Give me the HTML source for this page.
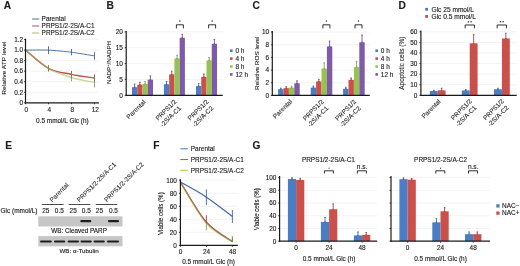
<!DOCTYPE html>
<html><head><meta charset="utf-8"><style>
html,body{margin:0;padding:0;background:#fff;width:520px;height:266px;overflow:hidden}
svg{display:block;filter:blur(0.35px)}
text{font-family:"Liberation Sans",Arial,sans-serif;fill:#1c1c1c;stroke:#1c1c1c;stroke-width:0.13px}
</style></head><body>
<svg width="520" height="266" viewBox="0 0 520 266">
<rect width="520" height="266" fill="#fff"/>
<text x="3.70" y="9.00" font-size="10.2" text-anchor="start" font-weight="bold" >A</text>
<line x1="32.10" y1="19.00" x2="39.30" y2="19.00" stroke="#5f7ba5" stroke-width="1.1" />
<text x="41.60" y="21.10" font-size="6.45" text-anchor="start" font-weight="normal" >Parental</text>
<line x1="32.10" y1="26.00" x2="39.30" y2="26.00" stroke="#b06464" stroke-width="1.1" />
<text x="41.60" y="28.10" font-size="6.45" text-anchor="start" font-weight="normal" >PRPS1/2-2S/A-C1</text>
<line x1="32.10" y1="33.00" x2="39.30" y2="33.00" stroke="#b5c27e" stroke-width="1.1" />
<text x="41.60" y="35.10" font-size="6.45" text-anchor="start" font-weight="normal" >PRPS1/2-2S/A-C2</text>
<line x1="25.50" y1="92.26" x2="99.00" y2="92.26" stroke="#eeeeee" stroke-width="0.7" />
<line x1="25.50" y1="81.72" x2="99.00" y2="81.72" stroke="#eeeeee" stroke-width="0.7" />
<line x1="25.50" y1="71.18" x2="99.00" y2="71.18" stroke="#eeeeee" stroke-width="0.7" />
<line x1="25.50" y1="60.64" x2="99.00" y2="60.64" stroke="#eeeeee" stroke-width="0.7" />
<line x1="25.50" y1="50.10" x2="99.00" y2="50.10" stroke="#eeeeee" stroke-width="0.7" />
<line x1="25.50" y1="39.56" x2="99.00" y2="39.56" stroke="#eeeeee" stroke-width="0.7" />
<line x1="24.00" y1="102.80" x2="25.50" y2="102.80" stroke="#1a1a1a" stroke-width="0.8" />
<text x="23.20" y="105.11" font-size="6.45" text-anchor="end" font-weight="normal" >0</text>
<line x1="24.00" y1="92.26" x2="25.50" y2="92.26" stroke="#1a1a1a" stroke-width="0.8" />
<text x="23.20" y="94.57" font-size="6.45" text-anchor="end" font-weight="normal" >0.2</text>
<line x1="24.00" y1="81.72" x2="25.50" y2="81.72" stroke="#1a1a1a" stroke-width="0.8" />
<text x="23.20" y="84.03" font-size="6.45" text-anchor="end" font-weight="normal" >0.4</text>
<line x1="24.00" y1="71.18" x2="25.50" y2="71.18" stroke="#1a1a1a" stroke-width="0.8" />
<text x="23.20" y="73.49" font-size="6.45" text-anchor="end" font-weight="normal" >0.6</text>
<line x1="24.00" y1="60.64" x2="25.50" y2="60.64" stroke="#1a1a1a" stroke-width="0.8" />
<text x="23.20" y="62.95" font-size="6.45" text-anchor="end" font-weight="normal" >0.8</text>
<line x1="24.00" y1="50.10" x2="25.50" y2="50.10" stroke="#1a1a1a" stroke-width="0.8" />
<text x="23.20" y="52.41" font-size="6.45" text-anchor="end" font-weight="normal" >1.0</text>
<line x1="24.00" y1="39.56" x2="25.50" y2="39.56" stroke="#1a1a1a" stroke-width="0.8" />
<text x="23.20" y="41.87" font-size="6.45" text-anchor="end" font-weight="normal" >1.2</text>
<line x1="25.50" y1="102.80" x2="25.50" y2="104.30" stroke="#1a1a1a" stroke-width="0.8" />
<text x="26.30" y="111.80" font-size="6.45" text-anchor="middle" font-weight="normal" >0</text>
<line x1="48.50" y1="102.80" x2="48.50" y2="104.30" stroke="#1a1a1a" stroke-width="0.8" />
<text x="49.30" y="111.80" font-size="6.45" text-anchor="middle" font-weight="normal" >4</text>
<line x1="71.50" y1="102.80" x2="71.50" y2="104.30" stroke="#1a1a1a" stroke-width="0.8" />
<text x="72.30" y="111.80" font-size="6.45" text-anchor="middle" font-weight="normal" >8</text>
<line x1="94.50" y1="102.80" x2="94.50" y2="104.30" stroke="#1a1a1a" stroke-width="0.8" />
<text x="95.30" y="111.80" font-size="6.45" text-anchor="middle" font-weight="normal" >12</text>
<text x="62.40" y="122.80" font-size="6.45" text-anchor="middle" font-weight="normal" >0.5 mmol/L Glc (h)</text>
<text x="0" y="0" font-size="6.2" text-anchor="middle" textLength="53.0" lengthAdjust="spacingAndGlyphs" style="stroke-width:0.1px" transform="translate(6.30,68.20) rotate(-90)">Relative ATP level</text>
<path d="M25.50,50.10 C29.33,53.13 40.83,64.24 48.50,68.28 C56.17,72.32 63.83,72.72 71.50,74.34 C79.17,75.97 90.67,77.42 94.50,78.03" fill="none" stroke="#bb4f4a" stroke-width="1.4" stroke-opacity="1.0"/>
<path d="M25.50,50.10 C29.33,53.13 40.83,63.71 48.50,68.28 C56.17,72.85 63.83,75.13 71.50,77.50 C79.17,79.88 90.67,81.68 94.50,82.51" fill="none" stroke="#a8c060" stroke-width="1.4" stroke-opacity="0.6"/>
<path d="M25.50,50.10 C27.34,50.10 44.82,49.93 48.50,50.10 C52.18,50.27 67.82,51.74 71.50,52.21 C75.18,52.67 92.66,55.60 94.50,55.90" fill="none" stroke="#4d75ad" stroke-width="1.0" stroke-opacity="1.0"/>
<line x1="48.50" y1="46.78" x2="48.50" y2="53.42" stroke="#2f5590" stroke-width="0.8" />
<line x1="48.00" y1="46.78" x2="49.00" y2="46.78" stroke="#2f5590" stroke-width="0.8" />
<line x1="48.00" y1="53.42" x2="49.00" y2="53.42" stroke="#2f5590" stroke-width="0.8" />
<line x1="71.50" y1="49.57" x2="71.50" y2="54.84" stroke="#2f5590" stroke-width="0.8" />
<line x1="71.00" y1="49.57" x2="72.00" y2="49.57" stroke="#2f5590" stroke-width="0.8" />
<line x1="71.00" y1="54.84" x2="72.00" y2="54.84" stroke="#2f5590" stroke-width="0.8" />
<line x1="94.50" y1="52.73" x2="94.50" y2="59.06" stroke="#2f5590" stroke-width="0.8" />
<line x1="94.00" y1="52.73" x2="95.00" y2="52.73" stroke="#2f5590" stroke-width="0.8" />
<line x1="94.00" y1="59.06" x2="95.00" y2="59.06" stroke="#2f5590" stroke-width="0.8" />
<line x1="48.50" y1="65.65" x2="48.50" y2="70.92" stroke="#8c3f3f" stroke-width="0.8" />
<line x1="48.00" y1="65.65" x2="49.00" y2="65.65" stroke="#8c3f3f" stroke-width="0.8" />
<line x1="48.00" y1="70.92" x2="49.00" y2="70.92" stroke="#8c3f3f" stroke-width="0.8" />
<line x1="71.50" y1="71.44" x2="71.50" y2="77.24" stroke="#8c3f3f" stroke-width="0.8" />
<line x1="71.00" y1="71.44" x2="72.00" y2="71.44" stroke="#8c3f3f" stroke-width="0.8" />
<line x1="71.00" y1="77.24" x2="72.00" y2="77.24" stroke="#8c3f3f" stroke-width="0.8" />
<line x1="94.50" y1="74.87" x2="94.50" y2="81.19" stroke="#8c3f3f" stroke-width="0.8" />
<line x1="94.00" y1="74.87" x2="95.00" y2="74.87" stroke="#8c3f3f" stroke-width="0.8" />
<line x1="94.00" y1="81.19" x2="95.00" y2="81.19" stroke="#8c3f3f" stroke-width="0.8" />
<line x1="48.50" y1="65.65" x2="48.50" y2="70.92" stroke="#7f9048" stroke-width="0.8" />
<line x1="48.00" y1="65.65" x2="49.00" y2="65.65" stroke="#7f9048" stroke-width="0.8" />
<line x1="48.00" y1="70.92" x2="49.00" y2="70.92" stroke="#7f9048" stroke-width="0.8" />
<line x1="71.50" y1="74.34" x2="71.50" y2="80.67" stroke="#7f9048" stroke-width="0.8" />
<line x1="71.00" y1="74.34" x2="72.00" y2="74.34" stroke="#7f9048" stroke-width="0.8" />
<line x1="71.00" y1="80.67" x2="72.00" y2="80.67" stroke="#7f9048" stroke-width="0.8" />
<line x1="94.50" y1="78.29" x2="94.50" y2="86.73" stroke="#7f9048" stroke-width="0.8" />
<line x1="94.00" y1="78.29" x2="95.00" y2="78.29" stroke="#7f9048" stroke-width="0.8" />
<line x1="94.00" y1="86.73" x2="95.00" y2="86.73" stroke="#7f9048" stroke-width="0.8" />
<line x1="25.50" y1="38.60" x2="25.50" y2="103.40" stroke="#1a1a1a" stroke-width="1.2" />
<line x1="24.90" y1="102.80" x2="99.00" y2="102.80" stroke="#1a1a1a" stroke-width="1.2" />
<text x="106.60" y="9.00" font-size="10.2" text-anchor="start" font-weight="bold" >B</text>
<line x1="126.20" y1="79.42" x2="222.80" y2="79.42" stroke="#eeeeee" stroke-width="0.7" />
<line x1="126.20" y1="63.55" x2="222.80" y2="63.55" stroke="#eeeeee" stroke-width="0.7" />
<line x1="126.20" y1="47.67" x2="222.80" y2="47.67" stroke="#eeeeee" stroke-width="0.7" />
<line x1="126.20" y1="31.80" x2="222.80" y2="31.80" stroke="#eeeeee" stroke-width="0.7" />
<line x1="124.70" y1="95.30" x2="126.20" y2="95.30" stroke="#1a1a1a" stroke-width="0.8" />
<text x="122.90" y="97.61" font-size="6.45" text-anchor="end" font-weight="normal" >0</text>
<line x1="124.70" y1="79.42" x2="126.20" y2="79.42" stroke="#1a1a1a" stroke-width="0.8" />
<text x="122.90" y="81.73" font-size="6.45" text-anchor="end" font-weight="normal" >5</text>
<line x1="124.70" y1="63.55" x2="126.20" y2="63.55" stroke="#1a1a1a" stroke-width="0.8" />
<text x="122.90" y="65.86" font-size="6.45" text-anchor="end" font-weight="normal" >10</text>
<line x1="124.70" y1="47.67" x2="126.20" y2="47.67" stroke="#1a1a1a" stroke-width="0.8" />
<text x="122.90" y="49.98" font-size="6.45" text-anchor="end" font-weight="normal" >15</text>
<line x1="124.70" y1="31.80" x2="126.20" y2="31.80" stroke="#1a1a1a" stroke-width="0.8" />
<text x="122.90" y="34.11" font-size="6.45" text-anchor="end" font-weight="normal" >20</text>
<rect x="132.00" y="87.20" width="5.25" height="8.10" fill="#497dc5"/>
<rect x="137.25" y="84.70" width="5.25" height="10.60" fill="#ca504b"/>
<rect x="142.50" y="83.87" width="5.25" height="11.43" fill="#97c252"/>
<rect x="147.75" y="79.71" width="5.25" height="15.59" fill="#7d5ba9"/>
<rect x="163.90" y="84.31" width="5.25" height="10.99" fill="#497dc5"/>
<rect x="169.15" y="74.34" width="5.25" height="20.95" fill="#ca504b"/>
<rect x="174.40" y="58.47" width="5.25" height="36.83" fill="#97c252"/>
<rect x="179.65" y="37.83" width="5.25" height="57.47" fill="#7d5ba9"/>
<rect x="196.00" y="86.09" width="5.25" height="9.21" fill="#497dc5"/>
<rect x="201.25" y="76.88" width="5.25" height="18.41" fill="#ca504b"/>
<rect x="206.50" y="60.38" width="5.25" height="34.92" fill="#97c252"/>
<rect x="211.75" y="43.87" width="5.25" height="51.43" fill="#7d5ba9"/>
<line x1="134.62" y1="84.03" x2="134.62" y2="87.20" stroke="#2f5590" stroke-width="0.8" />
<line x1="133.82" y1="84.03" x2="135.43" y2="84.03" stroke="#2f5590" stroke-width="0.8" />
<line x1="133.82" y1="87.20" x2="135.43" y2="87.20" stroke="#2f5590" stroke-width="0.8" />
<line x1="139.88" y1="82.16" x2="139.88" y2="84.70" stroke="#9a3036" stroke-width="0.8" />
<line x1="139.07" y1="82.16" x2="140.68" y2="82.16" stroke="#9a3036" stroke-width="0.8" />
<line x1="139.07" y1="84.70" x2="140.68" y2="84.70" stroke="#9a3036" stroke-width="0.8" />
<line x1="145.12" y1="81.33" x2="145.12" y2="83.87" stroke="#6f9a38" stroke-width="0.8" />
<line x1="144.32" y1="81.33" x2="145.93" y2="81.33" stroke="#6f9a38" stroke-width="0.8" />
<line x1="144.32" y1="83.87" x2="145.93" y2="83.87" stroke="#6f9a38" stroke-width="0.8" />
<line x1="150.38" y1="75.90" x2="150.38" y2="79.71" stroke="#5a3f82" stroke-width="0.8" />
<line x1="149.57" y1="75.90" x2="151.18" y2="75.90" stroke="#5a3f82" stroke-width="0.8" />
<line x1="149.57" y1="79.71" x2="151.18" y2="79.71" stroke="#5a3f82" stroke-width="0.8" />
<line x1="166.53" y1="81.46" x2="166.53" y2="84.31" stroke="#2f5590" stroke-width="0.8" />
<line x1="165.72" y1="81.46" x2="167.33" y2="81.46" stroke="#2f5590" stroke-width="0.8" />
<line x1="165.72" y1="84.31" x2="167.33" y2="84.31" stroke="#2f5590" stroke-width="0.8" />
<line x1="171.78" y1="71.17" x2="171.78" y2="74.34" stroke="#9a3036" stroke-width="0.8" />
<line x1="170.97" y1="71.17" x2="172.58" y2="71.17" stroke="#9a3036" stroke-width="0.8" />
<line x1="170.97" y1="74.34" x2="172.58" y2="74.34" stroke="#9a3036" stroke-width="0.8" />
<line x1="177.03" y1="55.30" x2="177.03" y2="58.47" stroke="#6f9a38" stroke-width="0.8" />
<line x1="176.22" y1="55.30" x2="177.83" y2="55.30" stroke="#6f9a38" stroke-width="0.8" />
<line x1="176.22" y1="58.47" x2="177.83" y2="58.47" stroke="#6f9a38" stroke-width="0.8" />
<line x1="182.28" y1="34.34" x2="182.28" y2="37.83" stroke="#5a3f82" stroke-width="0.8" />
<line x1="181.47" y1="34.34" x2="183.08" y2="34.34" stroke="#5a3f82" stroke-width="0.8" />
<line x1="181.47" y1="37.83" x2="183.08" y2="37.83" stroke="#5a3f82" stroke-width="0.8" />
<line x1="198.62" y1="83.55" x2="198.62" y2="86.09" stroke="#2f5590" stroke-width="0.8" />
<line x1="197.82" y1="83.55" x2="199.43" y2="83.55" stroke="#2f5590" stroke-width="0.8" />
<line x1="197.82" y1="86.09" x2="199.43" y2="86.09" stroke="#2f5590" stroke-width="0.8" />
<line x1="203.88" y1="74.03" x2="203.88" y2="76.88" stroke="#9a3036" stroke-width="0.8" />
<line x1="203.07" y1="74.03" x2="204.68" y2="74.03" stroke="#9a3036" stroke-width="0.8" />
<line x1="203.07" y1="76.88" x2="204.68" y2="76.88" stroke="#9a3036" stroke-width="0.8" />
<line x1="209.12" y1="57.52" x2="209.12" y2="60.38" stroke="#6f9a38" stroke-width="0.8" />
<line x1="208.32" y1="57.52" x2="209.93" y2="57.52" stroke="#6f9a38" stroke-width="0.8" />
<line x1="208.32" y1="60.38" x2="209.93" y2="60.38" stroke="#6f9a38" stroke-width="0.8" />
<line x1="214.38" y1="39.42" x2="214.38" y2="43.87" stroke="#5a3f82" stroke-width="0.8" />
<line x1="213.57" y1="39.42" x2="215.18" y2="39.42" stroke="#5a3f82" stroke-width="0.8" />
<line x1="213.57" y1="43.87" x2="215.18" y2="43.87" stroke="#5a3f82" stroke-width="0.8" />
<line x1="126.20" y1="31.00" x2="126.20" y2="95.90" stroke="#1a1a1a" stroke-width="1.2" />
<line x1="125.60" y1="95.30" x2="222.80" y2="95.30" stroke="#1a1a1a" stroke-width="1.2" />
<text x="0" y="0" font-size="6.2" text-anchor="middle" textLength="43.0" lengthAdjust="spacingAndGlyphs" style="stroke-width:0.1px" transform="translate(111.40,62.50) rotate(-90)">NADP<tspan font-size="4" dy="-2">+</tspan><tspan dy="2">/NADPH</tspan></text>
<path d="M176.40,28.40 V24.80 H183.40 V28.40" fill="none" stroke="#1a1a1a" stroke-width="0.9"/>
<circle cx="179.90" cy="21.00" r="0.75" fill="#333"/>
<path d="M208.60,28.40 V24.80 H215.60 V28.40" fill="none" stroke="#1a1a1a" stroke-width="0.9"/>
<circle cx="212.10" cy="21.00" r="0.75" fill="#333"/>
<rect x="230.00" y="49.40" width="2.60" height="2.60" fill="#497dc5"/>
<text x="235.50" y="53.01" font-size="6.45" text-anchor="start" font-weight="normal" >0 h</text>
<rect x="230.00" y="57.30" width="2.60" height="2.60" fill="#ca504b"/>
<text x="235.50" y="60.91" font-size="6.45" text-anchor="start" font-weight="normal" >4 h</text>
<rect x="230.00" y="65.20" width="2.60" height="2.60" fill="#97c252"/>
<text x="235.50" y="68.81" font-size="6.45" text-anchor="start" font-weight="normal" >8 h</text>
<rect x="230.00" y="73.10" width="2.60" height="2.60" fill="#7d5ba9"/>
<text x="235.50" y="76.71" font-size="6.45" text-anchor="start" font-weight="normal" >12 h</text>
<text x="0" y="0" font-size="6.45" text-anchor="end" style="stroke-width:0.08px" transform="translate(146.00,102.60) rotate(-45)">Parental</text>
<text x="0" y="0" font-size="6.45" text-anchor="end" style="stroke-width:0.08px" transform="translate(176.90,102.10) rotate(-45)">PRPS1/2</text>
<text x="0" y="0" font-size="6.45" text-anchor="end" style="stroke-width:0.08px" transform="translate(181.50,108.68) rotate(-45)">-2S/A-C1</text>
<text x="0" y="0" font-size="6.45" text-anchor="end" style="stroke-width:0.08px" transform="translate(209.10,102.10) rotate(-45)">PRPS1/2</text>
<text x="0" y="0" font-size="6.45" text-anchor="end" style="stroke-width:0.08px" transform="translate(213.70,108.68) rotate(-45)">-2S/A-C2</text>
<text x="252.50" y="9.00" font-size="10.2" text-anchor="start" font-weight="bold" >C</text>
<line x1="272.30" y1="82.74" x2="369.80" y2="82.74" stroke="#eeeeee" stroke-width="0.7" />
<line x1="272.30" y1="70.08" x2="369.80" y2="70.08" stroke="#eeeeee" stroke-width="0.7" />
<line x1="272.30" y1="57.42" x2="369.80" y2="57.42" stroke="#eeeeee" stroke-width="0.7" />
<line x1="272.30" y1="44.76" x2="369.80" y2="44.76" stroke="#eeeeee" stroke-width="0.7" />
<line x1="272.30" y1="32.10" x2="369.80" y2="32.10" stroke="#eeeeee" stroke-width="0.7" />
<line x1="270.80" y1="95.40" x2="272.30" y2="95.40" stroke="#1a1a1a" stroke-width="0.8" />
<text x="269.20" y="97.71" font-size="6.45" text-anchor="end" font-weight="normal" >0</text>
<line x1="270.80" y1="82.74" x2="272.30" y2="82.74" stroke="#1a1a1a" stroke-width="0.8" />
<text x="269.20" y="85.05" font-size="6.45" text-anchor="end" font-weight="normal" >2</text>
<line x1="270.80" y1="70.08" x2="272.30" y2="70.08" stroke="#1a1a1a" stroke-width="0.8" />
<text x="269.20" y="72.39" font-size="6.45" text-anchor="end" font-weight="normal" >4</text>
<line x1="270.80" y1="57.42" x2="272.30" y2="57.42" stroke="#1a1a1a" stroke-width="0.8" />
<text x="269.20" y="59.73" font-size="6.45" text-anchor="end" font-weight="normal" >6</text>
<line x1="270.80" y1="44.76" x2="272.30" y2="44.76" stroke="#1a1a1a" stroke-width="0.8" />
<text x="269.20" y="47.07" font-size="6.45" text-anchor="end" font-weight="normal" >8</text>
<line x1="270.80" y1="32.10" x2="272.30" y2="32.10" stroke="#1a1a1a" stroke-width="0.8" />
<text x="269.20" y="34.41" font-size="6.45" text-anchor="end" font-weight="normal" >10</text>
<rect x="278.10" y="89.20" width="5.40" height="6.20" fill="#497dc5"/>
<rect x="283.50" y="88.18" width="5.40" height="7.22" fill="#ca504b"/>
<rect x="288.90" y="87.68" width="5.40" height="7.72" fill="#97c252"/>
<rect x="294.30" y="83.31" width="5.40" height="12.09" fill="#7d5ba9"/>
<rect x="310.70" y="87.68" width="5.40" height="7.72" fill="#497dc5"/>
<rect x="316.10" y="81.47" width="5.40" height="13.93" fill="#ca504b"/>
<rect x="321.50" y="68.62" width="5.40" height="26.78" fill="#97c252"/>
<rect x="326.90" y="46.47" width="5.40" height="48.93" fill="#7d5ba9"/>
<rect x="343.10" y="88.82" width="5.40" height="6.58" fill="#497dc5"/>
<rect x="348.50" y="79.89" width="5.40" height="15.51" fill="#ca504b"/>
<rect x="353.90" y="67.10" width="5.40" height="28.30" fill="#97c252"/>
<rect x="359.30" y="42.29" width="5.40" height="53.11" fill="#7d5ba9"/>
<line x1="280.80" y1="88.18" x2="280.80" y2="89.20" stroke="#2f5590" stroke-width="0.8" />
<line x1="280.00" y1="88.18" x2="281.60" y2="88.18" stroke="#2f5590" stroke-width="0.8" />
<line x1="280.00" y1="89.20" x2="281.60" y2="89.20" stroke="#2f5590" stroke-width="0.8" />
<line x1="286.20" y1="86.66" x2="286.20" y2="88.18" stroke="#9a3036" stroke-width="0.8" />
<line x1="285.40" y1="86.66" x2="287.00" y2="86.66" stroke="#9a3036" stroke-width="0.8" />
<line x1="285.40" y1="88.18" x2="287.00" y2="88.18" stroke="#9a3036" stroke-width="0.8" />
<line x1="291.60" y1="86.16" x2="291.60" y2="87.68" stroke="#6f9a38" stroke-width="0.8" />
<line x1="290.80" y1="86.16" x2="292.40" y2="86.16" stroke="#6f9a38" stroke-width="0.8" />
<line x1="290.80" y1="87.68" x2="292.40" y2="87.68" stroke="#6f9a38" stroke-width="0.8" />
<line x1="297.00" y1="80.78" x2="297.00" y2="83.31" stroke="#5a3f82" stroke-width="0.8" />
<line x1="296.20" y1="80.78" x2="297.80" y2="80.78" stroke="#5a3f82" stroke-width="0.8" />
<line x1="296.20" y1="83.31" x2="297.80" y2="83.31" stroke="#5a3f82" stroke-width="0.8" />
<line x1="313.40" y1="86.09" x2="313.40" y2="87.68" stroke="#2f5590" stroke-width="0.8" />
<line x1="312.60" y1="86.09" x2="314.20" y2="86.09" stroke="#2f5590" stroke-width="0.8" />
<line x1="312.60" y1="87.68" x2="314.20" y2="87.68" stroke="#2f5590" stroke-width="0.8" />
<line x1="318.80" y1="79.58" x2="318.80" y2="81.47" stroke="#9a3036" stroke-width="0.8" />
<line x1="318.00" y1="79.58" x2="319.60" y2="79.58" stroke="#9a3036" stroke-width="0.8" />
<line x1="318.00" y1="81.47" x2="319.60" y2="81.47" stroke="#9a3036" stroke-width="0.8" />
<line x1="324.20" y1="62.80" x2="324.20" y2="68.62" stroke="#6f9a38" stroke-width="0.8" />
<line x1="323.40" y1="62.80" x2="325.00" y2="62.80" stroke="#6f9a38" stroke-width="0.8" />
<line x1="323.40" y1="68.62" x2="325.00" y2="68.62" stroke="#6f9a38" stroke-width="0.8" />
<line x1="329.60" y1="41.09" x2="329.60" y2="46.47" stroke="#5a3f82" stroke-width="0.8" />
<line x1="328.80" y1="41.09" x2="330.40" y2="41.09" stroke="#5a3f82" stroke-width="0.8" />
<line x1="328.80" y1="46.47" x2="330.40" y2="46.47" stroke="#5a3f82" stroke-width="0.8" />
<line x1="345.80" y1="87.23" x2="345.80" y2="88.82" stroke="#2f5590" stroke-width="0.8" />
<line x1="345.00" y1="87.23" x2="346.60" y2="87.23" stroke="#2f5590" stroke-width="0.8" />
<line x1="345.00" y1="88.82" x2="346.60" y2="88.82" stroke="#2f5590" stroke-width="0.8" />
<line x1="351.20" y1="77.99" x2="351.20" y2="79.89" stroke="#9a3036" stroke-width="0.8" />
<line x1="350.40" y1="77.99" x2="352.00" y2="77.99" stroke="#9a3036" stroke-width="0.8" />
<line x1="350.40" y1="79.89" x2="352.00" y2="79.89" stroke="#9a3036" stroke-width="0.8" />
<line x1="356.60" y1="61.22" x2="356.60" y2="67.10" stroke="#6f9a38" stroke-width="0.8" />
<line x1="355.80" y1="61.22" x2="357.40" y2="61.22" stroke="#6f9a38" stroke-width="0.8" />
<line x1="355.80" y1="67.10" x2="357.40" y2="67.10" stroke="#6f9a38" stroke-width="0.8" />
<line x1="362.00" y1="35.08" x2="362.00" y2="42.29" stroke="#5a3f82" stroke-width="0.8" />
<line x1="361.20" y1="35.08" x2="362.80" y2="35.08" stroke="#5a3f82" stroke-width="0.8" />
<line x1="361.20" y1="42.29" x2="362.80" y2="42.29" stroke="#5a3f82" stroke-width="0.8" />
<line x1="272.30" y1="31.10" x2="272.30" y2="96.00" stroke="#1a1a1a" stroke-width="1.2" />
<line x1="271.70" y1="95.40" x2="369.80" y2="95.40" stroke="#1a1a1a" stroke-width="1.2" />
<text x="0" y="0" font-size="6.2" text-anchor="middle" textLength="53.4" lengthAdjust="spacingAndGlyphs" style="stroke-width:0.1px" transform="translate(258.70,63.20) rotate(-90)">Relative ROS level</text>
<path d="M322.90,28.40 V24.80 H329.90 V28.40" fill="none" stroke="#1a1a1a" stroke-width="0.9"/>
<circle cx="326.40" cy="21.00" r="0.75" fill="#333"/>
<path d="M355.00,28.40 V24.80 H362.00 V28.40" fill="none" stroke="#1a1a1a" stroke-width="0.9"/>
<circle cx="358.50" cy="21.00" r="0.75" fill="#333"/>
<rect x="375.40" y="49.40" width="2.60" height="2.60" fill="#497dc5"/>
<text x="380.80" y="53.01" font-size="6.45" text-anchor="start" font-weight="normal" >0 h</text>
<rect x="375.40" y="57.30" width="2.60" height="2.60" fill="#ca504b"/>
<text x="380.80" y="60.91" font-size="6.45" text-anchor="start" font-weight="normal" >4 h</text>
<rect x="375.40" y="65.20" width="2.60" height="2.60" fill="#97c252"/>
<text x="380.80" y="68.81" font-size="6.45" text-anchor="start" font-weight="normal" >8 h</text>
<rect x="375.40" y="73.10" width="2.60" height="2.60" fill="#7d5ba9"/>
<text x="380.80" y="76.71" font-size="6.45" text-anchor="start" font-weight="normal" >12 h</text>
<text x="0" y="0" font-size="6.45" text-anchor="end" style="stroke-width:0.08px" transform="translate(292.50,102.10) rotate(-45)">Parental</text>
<text x="0" y="0" font-size="6.45" text-anchor="end" style="stroke-width:0.08px" transform="translate(324.20,102.20) rotate(-45)">PRPS1/2</text>
<text x="0" y="0" font-size="6.45" text-anchor="end" style="stroke-width:0.08px" transform="translate(328.80,108.78) rotate(-45)">-2S/A-C1</text>
<text x="0" y="0" font-size="6.45" text-anchor="end" style="stroke-width:0.08px" transform="translate(356.60,102.20) rotate(-45)">PRPS1/2</text>
<text x="0" y="0" font-size="6.45" text-anchor="end" style="stroke-width:0.08px" transform="translate(361.20,108.78) rotate(-45)">-2S/A-C2</text>
<text x="398.60" y="9.00" font-size="10.2" text-anchor="start" font-weight="bold" >D</text>
<line x1="420.90" y1="84.72" x2="516.70" y2="84.72" stroke="#eeeeee" stroke-width="0.7" />
<line x1="420.90" y1="74.14" x2="516.70" y2="74.14" stroke="#eeeeee" stroke-width="0.7" />
<line x1="420.90" y1="63.56" x2="516.70" y2="63.56" stroke="#eeeeee" stroke-width="0.7" />
<line x1="420.90" y1="52.98" x2="516.70" y2="52.98" stroke="#eeeeee" stroke-width="0.7" />
<line x1="420.90" y1="42.40" x2="516.70" y2="42.40" stroke="#eeeeee" stroke-width="0.7" />
<line x1="420.90" y1="31.82" x2="516.70" y2="31.82" stroke="#eeeeee" stroke-width="0.7" />
<line x1="419.40" y1="95.30" x2="420.90" y2="95.30" stroke="#1a1a1a" stroke-width="0.8" />
<text x="417.30" y="97.61" font-size="6.45" text-anchor="end" font-weight="normal" >0</text>
<line x1="419.40" y1="84.72" x2="420.90" y2="84.72" stroke="#1a1a1a" stroke-width="0.8" />
<text x="417.30" y="87.03" font-size="6.45" text-anchor="end" font-weight="normal" >10</text>
<line x1="419.40" y1="74.14" x2="420.90" y2="74.14" stroke="#1a1a1a" stroke-width="0.8" />
<text x="417.30" y="76.45" font-size="6.45" text-anchor="end" font-weight="normal" >20</text>
<line x1="419.40" y1="63.56" x2="420.90" y2="63.56" stroke="#1a1a1a" stroke-width="0.8" />
<text x="417.30" y="65.87" font-size="6.45" text-anchor="end" font-weight="normal" >30</text>
<line x1="419.40" y1="52.98" x2="420.90" y2="52.98" stroke="#1a1a1a" stroke-width="0.8" />
<text x="417.30" y="55.29" font-size="6.45" text-anchor="end" font-weight="normal" >40</text>
<line x1="419.40" y1="42.40" x2="420.90" y2="42.40" stroke="#1a1a1a" stroke-width="0.8" />
<text x="417.30" y="44.71" font-size="6.45" text-anchor="end" font-weight="normal" >50</text>
<line x1="419.40" y1="31.82" x2="420.90" y2="31.82" stroke="#1a1a1a" stroke-width="0.8" />
<text x="417.30" y="34.13" font-size="6.45" text-anchor="end" font-weight="normal" >60</text>
<rect x="429.80" y="91.07" width="7.90" height="4.23" fill="#497dc5"/>
<rect x="437.70" y="90.33" width="7.90" height="4.97" fill="#ca504b"/>
<rect x="461.80" y="90.43" width="7.90" height="4.87" fill="#497dc5"/>
<rect x="469.70" y="43.35" width="7.90" height="51.95" fill="#ca504b"/>
<rect x="494.00" y="89.27" width="7.90" height="6.03" fill="#497dc5"/>
<rect x="501.90" y="38.49" width="7.90" height="56.81" fill="#ca504b"/>
<line x1="433.75" y1="90.22" x2="433.75" y2="91.07" stroke="#2f5590" stroke-width="0.8" />
<line x1="432.95" y1="90.22" x2="434.55" y2="90.22" stroke="#2f5590" stroke-width="0.8" />
<line x1="432.95" y1="91.07" x2="434.55" y2="91.07" stroke="#2f5590" stroke-width="0.8" />
<line x1="441.65" y1="88.21" x2="441.65" y2="90.33" stroke="#9a3036" stroke-width="0.8" />
<line x1="440.85" y1="88.21" x2="442.45" y2="88.21" stroke="#9a3036" stroke-width="0.8" />
<line x1="440.85" y1="90.33" x2="442.45" y2="90.33" stroke="#9a3036" stroke-width="0.8" />
<line x1="465.75" y1="89.59" x2="465.75" y2="90.43" stroke="#2f5590" stroke-width="0.8" />
<line x1="464.95" y1="89.59" x2="466.55" y2="89.59" stroke="#2f5590" stroke-width="0.8" />
<line x1="464.95" y1="90.43" x2="466.55" y2="90.43" stroke="#2f5590" stroke-width="0.8" />
<line x1="473.65" y1="34.57" x2="473.65" y2="43.35" stroke="#9a3036" stroke-width="0.8" />
<line x1="472.85" y1="34.57" x2="474.45" y2="34.57" stroke="#9a3036" stroke-width="0.8" />
<line x1="472.85" y1="43.35" x2="474.45" y2="43.35" stroke="#9a3036" stroke-width="0.8" />
<line x1="497.95" y1="88.21" x2="497.95" y2="89.27" stroke="#2f5590" stroke-width="0.8" />
<line x1="497.15" y1="88.21" x2="498.75" y2="88.21" stroke="#2f5590" stroke-width="0.8" />
<line x1="497.15" y1="89.27" x2="498.75" y2="89.27" stroke="#2f5590" stroke-width="0.8" />
<line x1="505.85" y1="33.30" x2="505.85" y2="38.49" stroke="#9a3036" stroke-width="0.8" />
<line x1="505.05" y1="33.30" x2="506.65" y2="33.30" stroke="#9a3036" stroke-width="0.8" />
<line x1="505.05" y1="38.49" x2="506.65" y2="38.49" stroke="#9a3036" stroke-width="0.8" />
<line x1="420.90" y1="30.60" x2="420.90" y2="95.90" stroke="#1a1a1a" stroke-width="1.2" />
<line x1="420.30" y1="95.30" x2="516.70" y2="95.30" stroke="#1a1a1a" stroke-width="1.2" />
<text x="0" y="0" font-size="6.5" text-anchor="middle" textLength="53.0" lengthAdjust="spacingAndGlyphs" style="stroke-width:0.1px" transform="translate(403.70,63.20) rotate(-90)">Apoptotic cells (%)</text>
<path d="M465.15,28.40 V25.00 H474.45 V28.40" fill="none" stroke="#1a1a1a" stroke-width="0.9"/>
<circle cx="468.50" cy="21.80" r="0.8" fill="#333"/>
<circle cx="471.10" cy="21.80" r="0.8" fill="#333"/>
<path d="M497.15,28.40 V25.00 H506.45 V28.40" fill="none" stroke="#1a1a1a" stroke-width="0.9"/>
<circle cx="500.50" cy="21.80" r="0.8" fill="#333"/>
<circle cx="503.10" cy="21.80" r="0.8" fill="#333"/>
<rect x="425.20" y="7.90" width="2.80" height="2.80" fill="#497dc5"/>
<text x="431.50" y="11.66" font-size="6.6" text-anchor="start" font-weight="normal" >Glc 25 mmol/L</text>
<rect x="425.20" y="15.00" width="2.80" height="2.80" fill="#ca504b"/>
<text x="431.50" y="18.76" font-size="6.6" text-anchor="start" font-weight="normal" >Glc 0.5 mmol/L</text>
<text x="0" y="0" font-size="6.45" text-anchor="end" style="stroke-width:0.08px" transform="translate(441.10,101.90) rotate(-45)">Parental</text>
<text x="0" y="0" font-size="6.45" text-anchor="end" style="stroke-width:0.08px" transform="translate(472.30,101.70) rotate(-45)">PRPS1/2</text>
<text x="0" y="0" font-size="6.45" text-anchor="end" style="stroke-width:0.08px" transform="translate(476.90,108.28) rotate(-45)">-2S/A-C1</text>
<text x="0" y="0" font-size="6.45" text-anchor="end" style="stroke-width:0.08px" transform="translate(504.40,101.70) rotate(-45)">PRPS1/2</text>
<text x="0" y="0" font-size="6.45" text-anchor="end" style="stroke-width:0.08px" transform="translate(509.00,108.28) rotate(-45)">-2S/A-C2</text>
<text x="5.30" y="149.40" font-size="10.2" text-anchor="start" font-weight="bold" >E</text>
<text x="0" y="0" font-size="6.4" style="stroke-width:0.06px" transform="translate(52.2,202.4) rotate(-45)">Parental</text>
<text x="0" y="0" font-size="6.4" style="stroke-width:0.06px" transform="translate(79.4,202.2) rotate(-45)">PRPS1/2-2S/A-C1</text>
<text x="0" y="0" font-size="6.4" style="stroke-width:0.06px" transform="translate(106.8,202.2) rotate(-45)">PRPS1/2-2S/A-C2</text>
<line x1="41.80" y1="204.50" x2="63.60" y2="204.50" stroke="#4a4a4a" stroke-width="1.0" />
<line x1="68.60" y1="204.50" x2="90.20" y2="204.50" stroke="#4a4a4a" stroke-width="1.0" />
<line x1="95.80" y1="204.50" x2="117.20" y2="204.50" stroke="#4a4a4a" stroke-width="1.0" />
<text x="0.60" y="212.91" font-size="6.45" text-anchor="start" font-weight="normal" >Glc (mmol/L)</text>
<text x="45.80" y="212.51" font-size="6.45" text-anchor="middle" font-weight="normal" >25</text>
<text x="59.30" y="212.51" font-size="6.45" text-anchor="middle" font-weight="normal" >0.5</text>
<text x="73.20" y="212.51" font-size="6.45" text-anchor="middle" font-weight="normal" >25</text>
<text x="86.30" y="212.51" font-size="6.45" text-anchor="middle" font-weight="normal" >0.5</text>
<text x="99.40" y="212.51" font-size="6.45" text-anchor="middle" font-weight="normal" >25</text>
<text x="113.40" y="212.51" font-size="6.45" text-anchor="middle" font-weight="normal" >0.5</text>
<rect x="38.3" y="216.3" width="84.2" height="10.2" fill="#c6c6c6"/>
<rect x="38.3" y="236.1" width="84.2" height="10.2" fill="#c6c6c6"/>
<rect x="80.30" y="220.10" width="11.00" height="2.20" rx="1.1" fill="#1e1e1e"/>
<rect x="107.90" y="220.10" width="11.10" height="2.20" rx="1.1" fill="#1e1e1e"/>
<rect x="40.00" y="240.40" width="11.80" height="2.20" rx="1.1" fill="#1e1e1e"/>
<rect x="54.00" y="240.40" width="11.30" height="2.20" rx="1.1" fill="#1e1e1e"/>
<rect x="67.60" y="240.40" width="11.40" height="2.20" rx="1.1" fill="#1e1e1e"/>
<rect x="80.50" y="240.40" width="11.30" height="2.20" rx="1.1" fill="#1e1e1e"/>
<rect x="93.60" y="240.40" width="11.20" height="2.20" rx="1.1" fill="#1e1e1e"/>
<rect x="107.00" y="240.40" width="12.00" height="2.20" rx="1.1" fill="#1e1e1e"/>
<text x="79.10" y="232.97" font-size="6.35" text-anchor="middle" font-weight="normal" >WB: Cleaved PARP</text>
<text x="79.10" y="253.12" font-size="6.2" text-anchor="middle" font-weight="normal" >WB: α-Tubulin</text>
<text x="153.30" y="149.40" font-size="10.2" text-anchor="start" font-weight="bold" >F</text>
<line x1="180.30" y1="148.80" x2="188.10" y2="148.80" stroke="#4d75ad" stroke-width="1.0" />
<text x="190.80" y="151.15" font-size="6.45" text-anchor="start" font-weight="normal" >Parental</text>
<line x1="180.30" y1="159.55" x2="188.10" y2="159.55" stroke="#bb4f4a" stroke-width="1.0" />
<text x="190.80" y="161.90" font-size="6.45" text-anchor="start" font-weight="normal" >PRPS1/2-2S/A-C1</text>
<line x1="180.30" y1="170.30" x2="188.10" y2="170.30" stroke="#a8c060" stroke-width="1.0" />
<text x="190.80" y="172.65" font-size="6.45" text-anchor="start" font-weight="normal" >PRPS1/2-2S/A-C2</text>
<line x1="180.40" y1="232.36" x2="237.50" y2="232.36" stroke="#eeeeee" stroke-width="0.7" />
<line x1="180.40" y1="219.32" x2="237.50" y2="219.32" stroke="#eeeeee" stroke-width="0.7" />
<line x1="180.40" y1="206.28" x2="237.50" y2="206.28" stroke="#eeeeee" stroke-width="0.7" />
<line x1="180.40" y1="193.24" x2="237.50" y2="193.24" stroke="#eeeeee" stroke-width="0.7" />
<line x1="180.40" y1="180.20" x2="237.50" y2="180.20" stroke="#eeeeee" stroke-width="0.7" />
<line x1="178.90" y1="245.40" x2="180.40" y2="245.40" stroke="#1a1a1a" stroke-width="0.8" />
<text x="176.90" y="247.71" font-size="6.45" text-anchor="end" font-weight="normal" >0</text>
<line x1="178.90" y1="232.36" x2="180.40" y2="232.36" stroke="#1a1a1a" stroke-width="0.8" />
<text x="176.90" y="234.67" font-size="6.45" text-anchor="end" font-weight="normal" >20</text>
<line x1="178.90" y1="219.32" x2="180.40" y2="219.32" stroke="#1a1a1a" stroke-width="0.8" />
<text x="176.90" y="221.63" font-size="6.45" text-anchor="end" font-weight="normal" >40</text>
<line x1="178.90" y1="206.28" x2="180.40" y2="206.28" stroke="#1a1a1a" stroke-width="0.8" />
<text x="176.90" y="208.59" font-size="6.45" text-anchor="end" font-weight="normal" >60</text>
<line x1="178.90" y1="193.24" x2="180.40" y2="193.24" stroke="#1a1a1a" stroke-width="0.8" />
<text x="176.90" y="195.55" font-size="6.45" text-anchor="end" font-weight="normal" >80</text>
<line x1="178.90" y1="180.20" x2="180.40" y2="180.20" stroke="#1a1a1a" stroke-width="0.8" />
<text x="176.90" y="182.51" font-size="6.45" text-anchor="end" font-weight="normal" >100</text>
<line x1="180.40" y1="245.40" x2="180.40" y2="246.90" stroke="#1a1a1a" stroke-width="0.8" />
<text x="180.60" y="254.40" font-size="6.45" text-anchor="middle" font-weight="normal" >0</text>
<line x1="206.40" y1="245.40" x2="206.40" y2="246.90" stroke="#1a1a1a" stroke-width="0.8" />
<text x="206.60" y="254.40" font-size="6.45" text-anchor="middle" font-weight="normal" >24</text>
<line x1="232.40" y1="245.40" x2="232.40" y2="246.90" stroke="#1a1a1a" stroke-width="0.8" />
<text x="232.60" y="254.40" font-size="6.45" text-anchor="middle" font-weight="normal" >48</text>
<text x="208.60" y="263.80" font-size="6.45" text-anchor="middle" font-weight="normal" >0.5 mmol/L Glc (h)</text>
<text x="0" y="0" font-size="6.5" text-anchor="middle" textLength="42.6" lengthAdjust="spacingAndGlyphs" style="stroke-width:0.1px" transform="translate(162.70,213.60) rotate(-90)">Viable cells (%)</text>
<path d="M180.40,182.03 C184.73,188.73 197.73,212.34 206.40,222.25 C215.07,232.16 228.07,238.28 232.40,241.49" fill="none" stroke="#a8483f" stroke-width="1.4" stroke-opacity="1.0"/>
<path d="M180.40,182.03 C184.73,188.89 197.73,213.27 206.40,223.23 C215.07,233.20 228.07,238.72 232.40,241.81" fill="none" stroke="#a0b050" stroke-width="1.4" stroke-opacity="0.55"/>
<path d="M180.40,182.03 C184.73,184.55 197.73,191.41 206.40,197.15 C215.07,202.89 228.07,213.23 232.40,216.45" fill="none" stroke="#4169a6" stroke-width="1.2" stroke-opacity="1.0"/>
<line x1="206.40" y1="189.98" x2="206.40" y2="204.32" stroke="#2f5590" stroke-width="0.8" />
<line x1="205.90" y1="189.98" x2="206.90" y2="189.98" stroke="#2f5590" stroke-width="0.8" />
<line x1="205.90" y1="204.32" x2="206.90" y2="204.32" stroke="#2f5590" stroke-width="0.8" />
<line x1="232.40" y1="210.58" x2="232.40" y2="222.32" stroke="#2f5590" stroke-width="0.8" />
<line x1="231.90" y1="210.58" x2="232.90" y2="210.58" stroke="#2f5590" stroke-width="0.8" />
<line x1="231.90" y1="222.32" x2="232.90" y2="222.32" stroke="#2f5590" stroke-width="0.8" />
<line x1="206.40" y1="215.73" x2="206.40" y2="222.25" stroke="#9a3036" stroke-width="0.8" />
<line x1="205.90" y1="215.73" x2="206.90" y2="215.73" stroke="#9a3036" stroke-width="0.8" />
<line x1="205.90" y1="222.25" x2="206.90" y2="222.25" stroke="#9a3036" stroke-width="0.8" />
<line x1="232.40" y1="238.23" x2="232.40" y2="241.49" stroke="#9a3036" stroke-width="0.8" />
<line x1="231.90" y1="238.23" x2="232.90" y2="238.23" stroke="#9a3036" stroke-width="0.8" />
<line x1="231.90" y1="241.49" x2="232.90" y2="241.49" stroke="#9a3036" stroke-width="0.8" />
<line x1="206.40" y1="223.23" x2="206.40" y2="229.75" stroke="#6f9a38" stroke-width="0.8" />
<line x1="205.90" y1="223.23" x2="206.90" y2="223.23" stroke="#6f9a38" stroke-width="0.8" />
<line x1="205.90" y1="229.75" x2="206.90" y2="229.75" stroke="#6f9a38" stroke-width="0.8" />
<line x1="232.40" y1="241.81" x2="232.40" y2="236.60" stroke="#6f9a38" stroke-width="0.8" />
<line x1="231.90" y1="241.81" x2="232.90" y2="241.81" stroke="#6f9a38" stroke-width="0.8" />
<line x1="231.90" y1="236.60" x2="232.90" y2="236.60" stroke="#6f9a38" stroke-width="0.8" />
<line x1="180.40" y1="179.30" x2="180.40" y2="246.00" stroke="#1a1a1a" stroke-width="1.2" />
<line x1="179.80" y1="245.40" x2="237.80" y2="245.40" stroke="#1a1a1a" stroke-width="1.2" />
<text x="252.50" y="149.40" font-size="10.2" text-anchor="start" font-weight="bold" >G</text>
<text x="0" y="0" font-size="6.5" text-anchor="middle" textLength="42.0" lengthAdjust="spacingAndGlyphs" style="stroke-width:0.1px" transform="translate(258.70,209.30) rotate(-90)">Viable cells (%)</text>
<line x1="279.60" y1="228.48" x2="377.20" y2="228.48" stroke="#eeeeee" stroke-width="0.7" />
<line x1="279.60" y1="215.76" x2="377.20" y2="215.76" stroke="#eeeeee" stroke-width="0.7" />
<line x1="279.60" y1="203.04" x2="377.20" y2="203.04" stroke="#eeeeee" stroke-width="0.7" />
<line x1="279.60" y1="190.32" x2="377.20" y2="190.32" stroke="#eeeeee" stroke-width="0.7" />
<line x1="279.60" y1="177.60" x2="377.20" y2="177.60" stroke="#eeeeee" stroke-width="0.7" />
<line x1="278.10" y1="241.20" x2="279.60" y2="241.20" stroke="#1a1a1a" stroke-width="0.8" />
<text x="276.40" y="243.51" font-size="6.45" text-anchor="end" font-weight="normal" >0</text>
<line x1="278.10" y1="228.48" x2="279.60" y2="228.48" stroke="#1a1a1a" stroke-width="0.8" />
<text x="276.40" y="230.79" font-size="6.45" text-anchor="end" font-weight="normal" >20</text>
<line x1="278.10" y1="215.76" x2="279.60" y2="215.76" stroke="#1a1a1a" stroke-width="0.8" />
<text x="276.40" y="218.07" font-size="6.45" text-anchor="end" font-weight="normal" >40</text>
<line x1="278.10" y1="203.04" x2="279.60" y2="203.04" stroke="#1a1a1a" stroke-width="0.8" />
<text x="276.40" y="205.35" font-size="6.45" text-anchor="end" font-weight="normal" >60</text>
<line x1="278.10" y1="190.32" x2="279.60" y2="190.32" stroke="#1a1a1a" stroke-width="0.8" />
<text x="276.40" y="192.63" font-size="6.45" text-anchor="end" font-weight="normal" >80</text>
<line x1="278.10" y1="177.60" x2="279.60" y2="177.60" stroke="#1a1a1a" stroke-width="0.8" />
<text x="276.40" y="179.91" font-size="6.45" text-anchor="end" font-weight="normal" >100</text>
<rect x="287.90" y="179.00" width="8.20" height="62.20" fill="#497dc5"/>
<rect x="296.10" y="180.02" width="8.20" height="61.18" fill="#ca504b"/>
<rect x="320.90" y="221.93" width="8.20" height="19.27" fill="#497dc5"/>
<rect x="329.10" y="209.27" width="8.20" height="31.93" fill="#ca504b"/>
<rect x="353.90" y="235.41" width="8.20" height="5.79" fill="#497dc5"/>
<rect x="362.10" y="234.90" width="8.20" height="6.30" fill="#ca504b"/>
<line x1="292.00" y1="177.73" x2="292.00" y2="179.00" stroke="#2f5590" stroke-width="0.8" />
<line x1="291.20" y1="177.73" x2="292.80" y2="177.73" stroke="#2f5590" stroke-width="0.8" />
<line x1="291.20" y1="179.00" x2="292.80" y2="179.00" stroke="#2f5590" stroke-width="0.8" />
<line x1="300.20" y1="178.43" x2="300.20" y2="180.02" stroke="#9a3036" stroke-width="0.8" />
<line x1="299.40" y1="178.43" x2="301.00" y2="178.43" stroke="#9a3036" stroke-width="0.8" />
<line x1="299.40" y1="180.02" x2="301.00" y2="180.02" stroke="#9a3036" stroke-width="0.8" />
<line x1="325.00" y1="217.48" x2="325.00" y2="221.93" stroke="#2f5590" stroke-width="0.8" />
<line x1="324.20" y1="217.48" x2="325.80" y2="217.48" stroke="#2f5590" stroke-width="0.8" />
<line x1="324.20" y1="221.93" x2="325.80" y2="221.93" stroke="#2f5590" stroke-width="0.8" />
<line x1="333.20" y1="203.80" x2="333.20" y2="209.27" stroke="#9a3036" stroke-width="0.8" />
<line x1="332.40" y1="203.80" x2="334.00" y2="203.80" stroke="#9a3036" stroke-width="0.8" />
<line x1="332.40" y1="209.27" x2="334.00" y2="209.27" stroke="#9a3036" stroke-width="0.8" />
<line x1="358.00" y1="231.98" x2="358.00" y2="235.41" stroke="#2f5590" stroke-width="0.8" />
<line x1="357.20" y1="231.98" x2="358.80" y2="231.98" stroke="#2f5590" stroke-width="0.8" />
<line x1="357.20" y1="235.41" x2="358.80" y2="235.41" stroke="#2f5590" stroke-width="0.8" />
<line x1="366.20" y1="232.49" x2="366.20" y2="234.90" stroke="#9a3036" stroke-width="0.8" />
<line x1="365.40" y1="232.49" x2="367.00" y2="232.49" stroke="#9a3036" stroke-width="0.8" />
<line x1="365.40" y1="234.90" x2="367.00" y2="234.90" stroke="#9a3036" stroke-width="0.8" />
<line x1="279.60" y1="176.00" x2="279.60" y2="241.80" stroke="#1a1a1a" stroke-width="1.2" />
<line x1="279.00" y1="241.20" x2="377.20" y2="241.20" stroke="#1a1a1a" stroke-width="1.2" />
<line x1="296.10" y1="241.20" x2="296.10" y2="242.70" stroke="#1a1a1a" stroke-width="0.8" />
<text x="296.10" y="249.90" font-size="6.45" text-anchor="middle" font-weight="normal" >0</text>
<line x1="329.10" y1="241.20" x2="329.10" y2="242.70" stroke="#1a1a1a" stroke-width="0.8" />
<text x="329.10" y="249.90" font-size="6.45" text-anchor="middle" font-weight="normal" >24</text>
<line x1="362.10" y1="241.20" x2="362.10" y2="242.70" stroke="#1a1a1a" stroke-width="0.8" />
<text x="362.10" y="249.90" font-size="6.45" text-anchor="middle" font-weight="normal" >48</text>
<text x="329.10" y="261.20" font-size="6.45" text-anchor="middle" font-weight="normal" >0.5 mmol/L Glc (h)</text>
<text x="328.40" y="161.90" font-size="6.45" text-anchor="middle" font-weight="normal" >PRPS1/2-2S/A-C1</text>
<path d="M324.40,173.50 V170.80 H333.40 V173.50" fill="none" stroke="#1a1a1a" stroke-width="0.9"/>
<circle cx="329.10" cy="168.20" r="0.6" fill="#333"/>
<path d="M357.40,173.50 V170.80 H366.40 V173.50" fill="none" stroke="#1a1a1a" stroke-width="0.9"/>
<text x="362.10" y="168.50" font-size="6.6" text-anchor="middle" font-weight="normal" >n.s.</text>
<line x1="391.00" y1="228.48" x2="490.00" y2="228.48" stroke="#eeeeee" stroke-width="0.7" />
<line x1="391.00" y1="215.76" x2="490.00" y2="215.76" stroke="#eeeeee" stroke-width="0.7" />
<line x1="391.00" y1="203.04" x2="490.00" y2="203.04" stroke="#eeeeee" stroke-width="0.7" />
<line x1="391.00" y1="190.32" x2="490.00" y2="190.32" stroke="#eeeeee" stroke-width="0.7" />
<line x1="391.00" y1="177.60" x2="490.00" y2="177.60" stroke="#eeeeee" stroke-width="0.7" />
<line x1="389.50" y1="241.20" x2="391.00" y2="241.20" stroke="#1a1a1a" stroke-width="0.8" />
<line x1="389.50" y1="228.48" x2="391.00" y2="228.48" stroke="#1a1a1a" stroke-width="0.8" />
<line x1="389.50" y1="215.76" x2="391.00" y2="215.76" stroke="#1a1a1a" stroke-width="0.8" />
<line x1="389.50" y1="203.04" x2="391.00" y2="203.04" stroke="#1a1a1a" stroke-width="0.8" />
<line x1="389.50" y1="190.32" x2="391.00" y2="190.32" stroke="#1a1a1a" stroke-width="0.8" />
<line x1="389.50" y1="177.60" x2="391.00" y2="177.60" stroke="#1a1a1a" stroke-width="0.8" />
<rect x="399.40" y="179.19" width="8.20" height="62.01" fill="#497dc5"/>
<rect x="407.60" y="179.76" width="8.20" height="61.44" fill="#ca504b"/>
<rect x="432.30" y="222.37" width="8.20" height="18.83" fill="#497dc5"/>
<rect x="440.50" y="211.31" width="8.20" height="29.89" fill="#ca504b"/>
<rect x="465.00" y="234.20" width="8.20" height="7.00" fill="#497dc5"/>
<rect x="473.20" y="234.20" width="8.20" height="7.00" fill="#ca504b"/>
<line x1="403.50" y1="177.92" x2="403.50" y2="179.19" stroke="#2f5590" stroke-width="0.8" />
<line x1="402.70" y1="177.92" x2="404.30" y2="177.92" stroke="#2f5590" stroke-width="0.8" />
<line x1="402.70" y1="179.19" x2="404.30" y2="179.19" stroke="#2f5590" stroke-width="0.8" />
<line x1="411.70" y1="178.49" x2="411.70" y2="179.76" stroke="#9a3036" stroke-width="0.8" />
<line x1="410.90" y1="178.49" x2="412.50" y2="178.49" stroke="#9a3036" stroke-width="0.8" />
<line x1="410.90" y1="179.76" x2="412.50" y2="179.76" stroke="#9a3036" stroke-width="0.8" />
<line x1="436.40" y1="218.62" x2="436.40" y2="222.37" stroke="#2f5590" stroke-width="0.8" />
<line x1="435.60" y1="218.62" x2="437.20" y2="218.62" stroke="#2f5590" stroke-width="0.8" />
<line x1="435.60" y1="222.37" x2="437.20" y2="222.37" stroke="#2f5590" stroke-width="0.8" />
<line x1="444.60" y1="207.62" x2="444.60" y2="211.31" stroke="#9a3036" stroke-width="0.8" />
<line x1="443.80" y1="207.62" x2="445.40" y2="207.62" stroke="#9a3036" stroke-width="0.8" />
<line x1="443.80" y1="211.31" x2="445.40" y2="211.31" stroke="#9a3036" stroke-width="0.8" />
<line x1="469.10" y1="231.91" x2="469.10" y2="234.20" stroke="#2f5590" stroke-width="0.8" />
<line x1="468.30" y1="231.91" x2="469.90" y2="231.91" stroke="#2f5590" stroke-width="0.8" />
<line x1="468.30" y1="234.20" x2="469.90" y2="234.20" stroke="#2f5590" stroke-width="0.8" />
<line x1="477.30" y1="231.91" x2="477.30" y2="234.20" stroke="#9a3036" stroke-width="0.8" />
<line x1="476.50" y1="231.91" x2="478.10" y2="231.91" stroke="#9a3036" stroke-width="0.8" />
<line x1="476.50" y1="234.20" x2="478.10" y2="234.20" stroke="#9a3036" stroke-width="0.8" />
<line x1="391.00" y1="176.00" x2="391.00" y2="241.80" stroke="#1a1a1a" stroke-width="1.2" />
<line x1="390.40" y1="241.20" x2="490.00" y2="241.20" stroke="#1a1a1a" stroke-width="1.2" />
<line x1="407.60" y1="241.20" x2="407.60" y2="242.70" stroke="#1a1a1a" stroke-width="0.8" />
<text x="407.60" y="249.90" font-size="6.45" text-anchor="middle" font-weight="normal" >0</text>
<line x1="440.50" y1="241.20" x2="440.50" y2="242.70" stroke="#1a1a1a" stroke-width="0.8" />
<text x="440.50" y="249.90" font-size="6.45" text-anchor="middle" font-weight="normal" >24</text>
<line x1="473.20" y1="241.20" x2="473.20" y2="242.70" stroke="#1a1a1a" stroke-width="0.8" />
<text x="473.20" y="249.90" font-size="6.45" text-anchor="middle" font-weight="normal" >48</text>
<text x="440.50" y="261.20" font-size="6.45" text-anchor="middle" font-weight="normal" >0.5 mmol/L Glc (h)</text>
<text x="440.60" y="161.90" font-size="6.45" text-anchor="middle" font-weight="normal" >PRPS1/2-2S/A-C2</text>
<path d="M435.80,173.50 V170.80 H444.80 V173.50" fill="none" stroke="#1a1a1a" stroke-width="0.9"/>
<circle cx="440.50" cy="168.20" r="0.6" fill="#333"/>
<path d="M468.50,173.50 V170.80 H477.50 V173.50" fill="none" stroke="#1a1a1a" stroke-width="0.9"/>
<text x="473.20" y="168.50" font-size="6.6" text-anchor="middle" font-weight="normal" >n.s.</text>
<rect x="496.30" y="204.25" width="3.30" height="3.30" fill="#497dc5"/>
<text x="502.10" y="208.21" font-size="6.45" text-anchor="start" font-weight="normal" >NAC−</text>
<rect x="496.30" y="211.45" width="3.30" height="3.30" fill="#ca504b"/>
<text x="502.10" y="215.41" font-size="6.45" text-anchor="start" font-weight="normal" >NAC+</text>
</svg>
</body></html>
